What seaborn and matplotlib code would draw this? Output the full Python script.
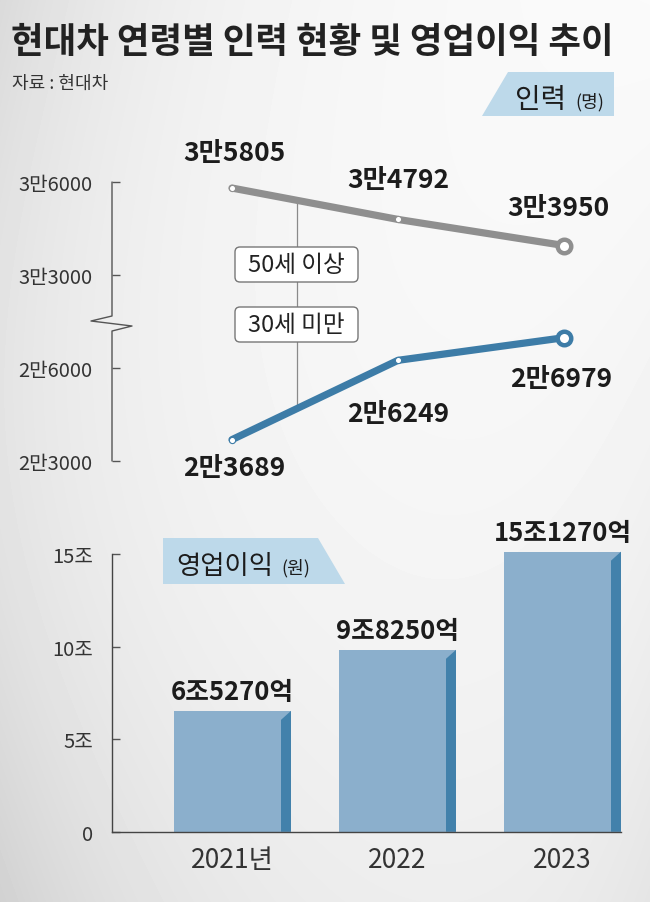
import numpy as np
import pandas as pd
import matplotlib
matplotlib.use('Agg')
import matplotlib.pyplot as plt
import matplotlib.transforms as mtransforms
from matplotlib.patches import Polygon, FancyBboxPatch
from matplotlib.lines import Line2D
import seaborn as sns

# ---------------- data ----------------
years = ['2021년', '2022', '2023']
over50 = [35805, 34792, 33950]
under30 = [23689, 26249, 26979]
over50_labels = ['3만5805', '3만4792', '3만3950']
under30_labels = ['2만3689', '2만6249', '2만6979']
staff_ticks = [23000, 26000, 33000, 36000]
staff_tick_labels = ['2만3000', '2만6000', '3만3000', '3만6000']
profit = [6.527, 9.825, 15.127]          # 조 원
profit_labels = ['6조5270억', '9조8250억', '15조1270억']
profit_ticks = [0, 5, 10, 15]
profit_tick_labels = ['0', '5조', '10조', '15조']

GRAY = '#8f8f8f'
BLUE = '#3d7ca7'
FRONT = '#8bafcc'
SIDE = '#4281ab'
BOXC = '#bdd9ea'
TXT = '#1c1c1c'

sns.set_theme(style='white')
plt.rcParams['font.family'] = ['Noto Sans CJK KR', 'DejaVu Sans']

W, H = 650, 903
fig = plt.figure(figsize=(6.5, 9.03), dpi=100)
PX = mtransforms.Affine2D().scale(1 / W, -1 / H).translate(0, 1) + fig.transFigure

def fx(x):
    return x / W

def fy(y):
    return 1 - y / H

# ---------------- background ----------------
bg = fig.add_axes([0, 0, 1, 1], zorder=-10)
xx, yy = np.meshgrid(np.arange(W), np.arange(H))
g = (0.985
     - 0.13 * np.exp(-xx / 190.0) * (1 - 0.35 * np.sin(np.pi * yy / H))
     - 0.035 * (yy / H) ** 2
     - 0.05 * np.exp(-(W - xx) / 110.0) * (yy / H))
bg.imshow(g, cmap='gray', vmin=0, vmax=1, aspect='auto', extent=[0, 1, 0, 1],
          interpolation='bilinear')
bg.axis('off')

# ---------------- title ----------------
fig.text(11, 53, '현대차 연령별 인력 현황 및 영업이익 추이', transform=PX,
         fontsize=25.5, fontweight='bold', color='#222222', va='baseline', ha='left')
fig.text(12, 89, '자료 : 현대차', transform=PX, fontsize=13, color='#333333',
         va='baseline', ha='left')

# "인력 (명)" tag
fig.patches.append(Polygon([(482, 117), (508, 73), (614, 73), (614, 117)], closed=True,
                           facecolor=BOXC, edgecolor='none', transform=PX))
fig.text(566, 108, '인력', transform=PX, fontsize=20, color=TXT, va='baseline', ha='right')
fig.text(604, 107, '(명)', transform=PX, fontsize=13, color=TXT, va='baseline', ha='right')

# ---------------- line panel (broken axis) ----------------
def fwd(v):
    return np.interp(v, [0, 27500, 31500, 100000], [0, 27500, 27504, 100000 - 3996])

def inv(u):
    return np.interp(u, [0, 27500, 27504, 100000 - 3996], [0, 27500, 31500, 100000])

axL = fig.add_axes([fx(112), fy(475), (640 - 112) / W, (475 - 150) / H])
axL.patch.set_alpha(0)
axL.set_yscale('function', functions=(fwd, inv))

xpos = np.arange(len(years))
df_staff = pd.DataFrame({
    'x': np.concatenate([xpos, xpos]),
    'v': over50 + under30,
    'grp': ['50세 이상'] * 3 + ['30세 미만'] * 3,
})

# connector line between the two series
xc = (297 - 232) / 166
yg = np.interp(xc, xpos, over50)
yb = np.interp(xc, xpos, under30)
axL.plot([xc, xc], [yb, yg], color='#8a8a8a', lw=0.9, zorder=1)

sns.lineplot(data=df_staff, x='x', y='v', hue='grp',
             palette={'50세 이상': GRAY, '30세 미만': BLUE},
             linewidth=5.2, legend=False, ax=axL, solid_capstyle='round', zorder=3)

for vals, col in [(over50, GRAY), (under30, BLUE)]:
    sns.scatterplot(x=xpos[:2], y=vals[:2], color='white', s=20, edgecolor=col,
                    linewidth=0.8, ax=axL, zorder=4, legend=False)
    sns.scatterplot(x=xpos[2:], y=vals[2:], color='white', s=95, edgecolor=col,
                    linewidth=3.2, ax=axL, zorder=4, legend=False)

over_off = [(2, 36), (0, 40), (-6, 38)]
under_off = [(2, -28), (0, -53), (-3, -41)]
for i in range(3):
    axL.annotate(over50_labels[i], xy=(xpos[i], over50[i]), xytext=over_off[i],
                 textcoords='offset pixels', ha='center', va='center',
                 fontsize=19, fontweight='bold', color=TXT)
    axL.annotate(under30_labels[i], xy=(xpos[i], under30[i]), xytext=under_off[i],
                 textcoords='offset pixels', ha='center', va='center',
                 fontsize=19, fontweight='bold', color=TXT)

axL.set_xlim((112 - 232) / 166, (640 - 232) / 166)
axL.set_ylim(22580, 37065)
axL.set_yticks(staff_ticks)
axL.set_yticklabels(staff_tick_labels)
axL.set_xticks([])
axL.set_xlabel('')
axL.set_ylabel('')
axL.tick_params(axis='y', direction='in', length=5.8, width=1, color='#555555',
                pad=14, labelsize=14.5, labelcolor='#333333', left=True)
for s in axL.spines.values():
    s.set_visible(False)

# broken spine
fig.lines.append(Line2D([112, 112, 91, 132, 112, 112], [183, 317, 322, 327, 332, 462],
                        color='#555555', lw=1, transform=PX))

# series label boxes
for (y0, label) in [(248, '50세 이상'), (308, '30세 미만')]:
    fig.patches.append(FancyBboxPatch((235, y0), 123, 35,
                                      boxstyle='round,pad=0,rounding_size=5',
                                      facecolor='white', edgecolor='#777777', lw=1,
                                      transform=PX, zorder=5))
    fig.text(296.5, y0 + 17.5, label, transform=PX, fontsize=17, color='#222222',
             ha='center', va='center', zorder=6)

# ---------------- bar panel ----------------
x0b, stepb = 232.5, 165.0
pxb = (832.7 - 555.0) / 15.0
axB = fig.add_axes([fx(112), fy(832.7), (621 - 112) / W, (832.7 - 530) / H])
axB.patch.set_alpha(0)
df_profit = pd.DataFrame({'year': years, 'profit': profit})
sns.barplot(data=df_profit, x='year', y='profit', color=FRONT, saturation=1,
            width=117 / stepb, linewidth=0, ax=axB, zorder=2)

sw = 10 / stepb
bevel = 9 / pxb
for p in list(axB.patches):
    xr = p.get_x() + p.get_width()
    h = p.get_height()
    axB.add_patch(Polygon([(xr - sw, 0), (xr, 0), (xr, h), (xr - sw, h - bevel)],
                          closed=True, facecolor=SIDE, edgecolor='none', zorder=3))

for i, v in enumerate(profit):
    axB.annotate(profit_labels[i], xy=(i, v), xytext=(0, 12), textcoords='offset pixels',
                 ha='center', va='baseline', fontsize=18.5, fontweight='bold', color=TXT)

axB.set_xlim((112 - x0b) / stepb, (621 - x0b) / stepb)
axB.set_ylim(0, (832.7 - 530) / pxb)
axB.set_yticks(profit_ticks)
axB.set_yticklabels(profit_tick_labels)
axB.set_xlabel('')
axB.set_ylabel('')
axB.tick_params(axis='y', direction='in', length=5.8, width=1, color='#555555',
                pad=13.5, labelsize=14.5, labelcolor='#333333', left=True)
axB.tick_params(axis='x', length=0, pad=10, labelsize=19, labelcolor='#333333')
for k in ['top', 'right']:
    axB.spines[k].set_visible(False)
axB.spines['left'].set_bounds(0, 15)
for k in ['left', 'bottom']:
    axB.spines[k].set_color('#444444')
    axB.spines[k].set_linewidth(1)
    axB.spines[k].set_zorder(4)

# "영업이익 (원)" tag
fig.patches.append(Polygon([(163, 539), (318, 539), (345, 585), (163, 585)], closed=True,
                           facecolor=BOXC, edgecolor='none', transform=PX))
fig.text(176, 574, '영업이익', transform=PX, fontsize=19, color=TXT, va='baseline', ha='left')
fig.text(281, 573, '(원)', transform=PX, fontsize=13, color=TXT, va='baseline', ha='left')

fig.savefig('out.png', dpi=100)
